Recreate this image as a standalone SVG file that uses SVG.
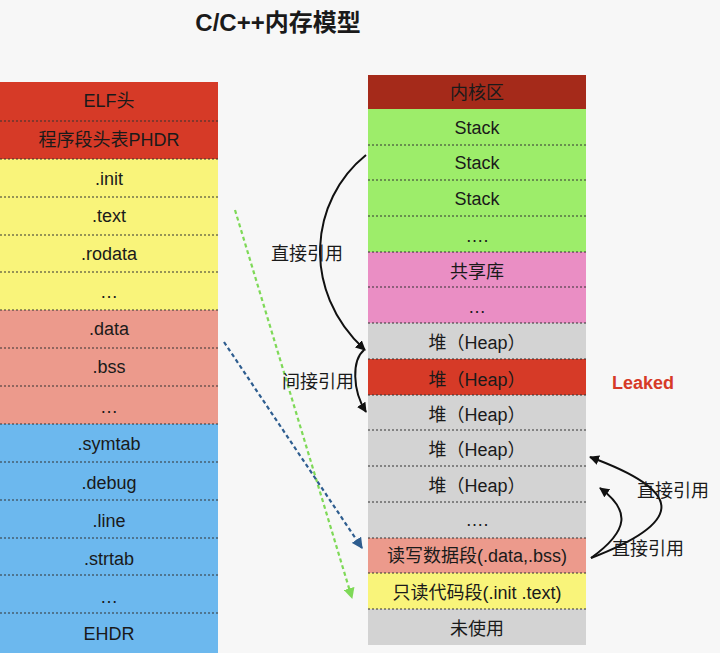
<svg xmlns="http://www.w3.org/2000/svg" width="720" height="653" viewBox="0 0 720 653">
<style>
text{font-family:"Liberation Sans","Noto Sans CJK SC",sans-serif;font-size:18px;fill:#1a1a1a;text-anchor:middle;dominant-baseline:central}
.sep{stroke:#333;stroke-width:1;stroke-dasharray:2 2}
.c{fill:none;stroke:#111;stroke-width:2}
</style>
<defs>
<marker id="ab" viewBox="0 0 10 10" refX="9" refY="5" markerWidth="5" markerHeight="5" orient="auto"><path d="M0,0L10,5L0,10z" fill="#111"/></marker>
<marker id="ag" viewBox="0 0 10 10" refX="9" refY="5" markerWidth="5" markerHeight="5" orient="auto"><path d="M0,0L10,5L0,10z" fill="#7ed957"/></marker>
<marker id="au" viewBox="0 0 10 10" refX="9" refY="5" markerWidth="5" markerHeight="5" orient="auto"><path d="M0,0L10,5L0,10z" fill="#2e5d8f"/></marker>
</defs>
<rect width="720" height="653" fill="#f7f7f7"/>
<text x="278" y="22" style="font-size:24px;font-weight:bold">C/C++内存模型</text>
<g id="left">
<rect x="0" y="82" width="218" height="77" fill="#d63a27"/>
<rect x="0" y="159" width="218" height="151" fill="#f9f47a"/>
<rect x="0" y="310" width="218" height="114" fill="#ec9a8c"/>
<rect x="0" y="424" width="218" height="229" fill="#6cb8ee"/>
<g class="sep"><line x1="0" x2="218" y1="121" y2="121"/><line x1="0" x2="218" y1="159" y2="159"/><line x1="0" x2="218" y1="197" y2="197"/><line x1="0" x2="218" y1="235" y2="235"/><line x1="0" x2="218" y1="272" y2="272"/><line x1="0" x2="218" y1="310" y2="310"/><line x1="0" x2="218" y1="348" y2="348"/><line x1="0" x2="218" y1="386" y2="386"/><line x1="0" x2="218" y1="424" y2="424"/><line x1="0" x2="218" y1="462" y2="462"/><line x1="0" x2="218" y1="500" y2="500"/><line x1="0" x2="218" y1="538" y2="538"/><line x1="0" x2="218" y1="575" y2="575"/><line x1="0" x2="218" y1="613" y2="613"/></g>
<text x="109" y="101">ELF头</text><text x="109" y="140">程序段头表PHDR</text><text x="109" y="179">.init</text><text x="109" y="216">.text</text><text x="109" y="254">.rodata</text><text x="109" y="292">…</text><text x="109" y="329">.data</text><text x="109" y="367">.bss</text><text x="109" y="407">…</text><text x="109" y="444">.symtab</text><text x="109" y="483">.debug</text><text x="109" y="521">.line</text><text x="109" y="559">.strtab</text><text x="109" y="597">…</text><text x="109" y="634">EHDR</text>
</g>
<g id="right">
<rect x="368" y="75" width="218" height="34" fill="#a52a1a"/>
<rect x="368" y="109" width="218" height="143" fill="#9ded6a"/>
<rect x="368" y="252" width="218" height="71" fill="#ea8ec4"/>
<rect x="368" y="323" width="218" height="36" fill="#d3d3d3"/>
<rect x="368" y="359" width="218" height="36" fill="#d63a27"/>
<rect x="368" y="395" width="218" height="143" fill="#d3d3d3"/>
<rect x="368" y="538" width="218" height="35" fill="#ec9a8c"/>
<rect x="368" y="573" width="218" height="36" fill="#f9f47a"/>
<rect x="368" y="609" width="218" height="36" fill="#d3d3d3"/>
<g class="sep"><line x1="368" x2="586" y1="145" y2="145"/><line x1="368" x2="586" y1="180" y2="180"/><line x1="368" x2="586" y1="216" y2="216"/><line x1="368" x2="586" y1="252" y2="252"/><line x1="368" x2="586" y1="287" y2="287"/><line x1="368" x2="586" y1="323" y2="323"/><line x1="368" x2="586" y1="359" y2="359"/><line x1="368" x2="586" y1="395" y2="395"/><line x1="368" x2="586" y1="430" y2="430"/><line x1="368" x2="586" y1="466" y2="466"/><line x1="368" x2="586" y1="502" y2="502"/><line x1="368" x2="586" y1="538" y2="538"/><line x1="368" x2="586" y1="573" y2="573"/><line x1="368" x2="586" y1="609" y2="609"/></g>
<text x="477" y="93">内核区</text><text x="477" y="128">Stack</text><text x="477" y="163">Stack</text><text x="477" y="199">Stack</text><text x="477" y="236">….</text><text x="477" y="272">共享库</text><text x="477" y="307">…</text><text x="477" y="343">堆（Heap）</text><text x="477" y="380">堆（Heap）</text><text x="477" y="415">堆（Heap）</text><text x="477" y="450">堆（Heap）</text><text x="477" y="486">堆（Heap）</text><text x="477" y="520">….</text><text x="477" y="556">读写数据段(.data,.bss)</text><text x="477" y="593">只读代码段(.init .text)</text><text x="477" y="629">未使用</text>
</g>
<text x="643" y="383" style="fill:#d63a27;font-weight:bold">Leaked</text>
<g id="connectors">
<path d="M235,210 L352,598" fill="none" stroke="#7ed957" stroke-width="2.2" stroke-dasharray="4 3" marker-end="url(#ag)"/>
<path d="M224,342 L362,548" fill="none" stroke="#2e5d8f" stroke-width="2.2" stroke-dasharray="4 3" marker-end="url(#au)"/>
<path class="c" d="M366,155 C310,200 300,290 365,350" marker-end="url(#ab)"/>
<path class="c" d="M364,350 C352,360 352,390 366,412" marker-end="url(#ab)"/>
<path class="c" d="M591,558 C690,520 680,490 590,457" marker-end="url(#ab)"/>
<path class="c" d="M591,558 C630,530 630,510 600,488" marker-end="url(#ab)"/>
</g>
<text x="307" y="254">直接引用</text>
<text x="318" y="382">间接引用</text>
<text x="673" y="491">直接引用</text>
<text x="648" y="549">直接引用</text>
</svg>
